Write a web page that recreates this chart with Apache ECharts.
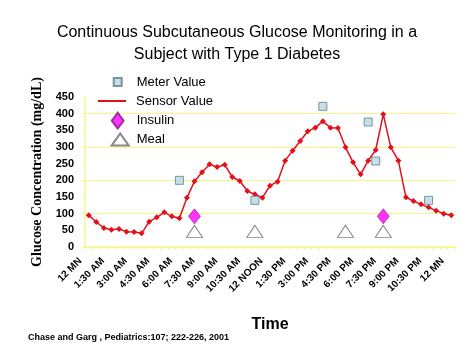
<!DOCTYPE html>
<html><head><meta charset="utf-8">
<script src="https://cdn.jsdelivr.net/npm/echarts@6/dist/echarts.min.js"></script>
<style>html,body{margin:0;padding:0;background:#fff}#c{width:474px;height:355px}</style>
</head><body><div id="c"></div>
<script>
// Half-hourly time categories, 12 MN to 12 MN
const timeCategories = [
  '12 MN','12:30 AM','1:00 AM','1:30 AM','2:00 AM','2:30 AM','3:00 AM','3:30 AM','4:00 AM','4:30 AM',
  '5:00 AM','5:30 AM','6:00 AM','6:30 AM','7:00 AM','7:30 AM','8:00 AM','8:30 AM','9:00 AM','9:30 AM',
  '10:00 AM','10:30 AM','11:00 AM','11:30 AM','12 NOON','12:30 PM','1:00 PM','1:30 PM','2:00 PM','2:30 PM',
  '3:00 PM','3:30 PM','4:00 PM','4:30 PM','5:00 PM','5:30 PM','6:00 PM','6:30 PM','7:00 PM','7:30 PM',
  '8:00 PM','8:30 PM','9:00 PM','9:30 PM','10:00 PM','10:30 PM','11:00 PM','11:30 PM','12 MN'
];
const yTicks = [0, 50, 100, 150, 200, 250, 300, 350, 400, 450];
// Sensor value, one reading per half hour (index into timeCategories)
const sensorValues = [
  95, 75, 57, 52, 54, 46, 45, 41, 76, 89,
  104, 92, 86, 148, 197, 224, 248, 240, 247, 210,
  198, 168, 158, 148, 184, 196, 259, 289, 318, 347,
  358, 377, 358, 357, 299, 254, 218, 259, 291, 398,
  299, 259, 149, 138, 128, 119, 109, 100, 95
];
// [category index, mg/dL]
const meterValues = [[12, 200], [22, 140], [31, 422], [37, 375], [38, 258], [45, 140]];
const insulinDoses = [[14, 92], [39, 92]];
const meals = [[14, 47], [22, 47], [34, 47], [39, 47]];

const SANS = 'Liberation Sans, Arial, Helvetica, sans-serif';
const YEL = '#f6f68a';
const chart = echarts.init(document.getElementById('c'), null, {renderer: 'canvas'});
chart.setOption({
  animation: false,
  backgroundColor: '#ffffff',
  title: [
    {text: 'Continuous Subcutaneous Glucose Monitoring in a\nSubject with Type 1 Diabetes', left: 'center', top: 17,
     textStyle: {fontFamily: SANS, fontSize: 16, fontWeight: 'normal', color: '#000', lineHeight: 22}},
    {text: 'Chase and Garg , Pediatrics:107; 222-226, 2001', left: 28, top: 333, padding: 0,
     textStyle: {fontFamily: SANS, fontSize: 9, fontWeight: 'bold', color: '#000'}}
  ],
  legend: [
    {data: [{name: 'Meter Value', icon: 'rect'}], left: 112.7, top: 75.5, padding: 0, itemWidth: 8, itemHeight: 8,
     textStyle: {fontFamily: SANS, fontSize: 13, color: '#000', padding: [0, 0, 0, 10]}},
    {data: [{name: 'Sensor Value', icon: 'rect'}], left: 98, top: 94.5, padding: 0, itemWidth: 28, itemHeight: 2,
     textStyle: {fontFamily: SANS, fontSize: 13, color: '#000', padding: [0, 0, 0, 5]}},
    {data: [{name: 'Insulin', icon: 'diamond'}], left: 110.7, top: 111.7, padding: 0, itemWidth: 12, itemHeight: 16,
     textStyle: {fontFamily: SANS, fontSize: 13, color: '#000', padding: [0, 0, 0, 8]}},
    {data: [{name: 'Meal', icon: 'triangle'}], left: 110.7, top: 132.5, padding: 0, itemWidth: 17, itemHeight: 12,
     textStyle: {fontFamily: SANS, fontSize: 13, color: '#000', padding: [0, 0, 0, 3]}}
  ],
  grid: {left: 85, right: 19, top: 97, bottom: 108, containLabel: false},
  xAxis: {
    type: 'category', data: timeCategories, boundaryGap: true,
    name: 'Time', nameLocation: 'middle', nameGap: 70,
    nameTextStyle: {fontFamily: SANS, fontSize: 16, fontWeight: 'bold', color: '#000'},
    axisLine: {lineStyle: {color: YEL, width: 1.5}},
    axisTick: {show: true, interval: 0, length: 3, lineStyle: {color: YEL}},
    axisLabel: {interval: 2, rotate: 45, margin: 4, fontFamily: SANS, fontSize: 10, fontWeight: 'bold', color: '#000',
      padding: [0, 12, 0, 0]},
    splitLine: {show: false}
  },
  yAxis: {
    type: 'value', min: yTicks[0], max: yTicks[yTicks.length - 1], interval: yTicks[1] - yTicks[0],
    name: 'Glucose Concentration (mg/dL)', nameLocation: 'middle', nameGap: 40, nameRotate: 90,
    nameTextStyle: {fontFamily: 'Liberation Serif, Times New Roman, serif', fontSize: 14, fontWeight: 'bold', color: '#000'},
    axisLine: {show: true, lineStyle: {color: YEL, width: 1.5}},
    axisTick: {show: true, length: 3, lineStyle: {color: YEL}},
    axisLabel: {margin: 11, fontFamily: SANS, fontSize: 11, fontWeight: 'bold', color: '#000'},
    splitLine: {show: true, lineStyle: {color: [YEL, 'rgba(0,0,0,0)'], width: 1}}
  },
  series: [
    {name: 'Sensor Value', type: 'line', data: sensorValues, color: '#e3101c', showAllSymbol: true,
     lineStyle: {color: '#e3101c', width: 1.5}, symbol: 'diamond', symbolSize: 6,
     itemStyle: {color: '#e3101c'}, z: 3},
    {name: 'Meter Value', type: 'scatter', data: meterValues, symbol: 'rect', symbolSize: 8,
     itemStyle: {color: '#b8d8df', borderColor: '#5f7f8c', borderWidth: 1}, z: 4},
    {name: 'Insulin', type: 'scatter', data: insulinDoses, symbol: 'diamond', symbolSize: [12, 15],
     itemStyle: {color: '#ff00ff', borderColor: '#8a1a8a', borderWidth: 0.8}, z: 4},
    {name: 'Meal', type: 'scatter', data: meals, symbol: 'triangle', symbolSize: [16, 12],
     itemStyle: {color: '#ffffff', borderColor: '#666666', borderWidth: 1}, z: 4}
  ]
});
</script></body></html>
